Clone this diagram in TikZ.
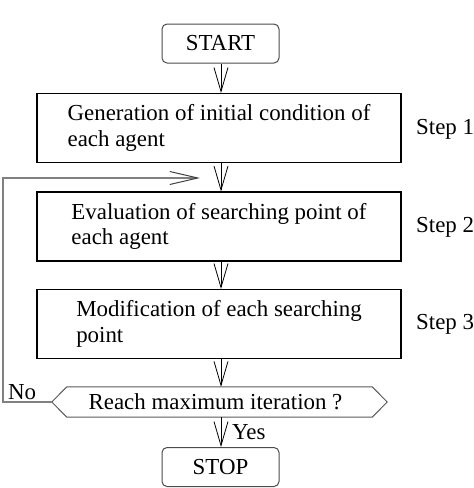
\documentclass[tikz,border=0pt]{standalone}
\usepackage{fontspec}
\setmainfont{Liberation Serif}
\usetikzlibrary{arrows.meta}
\begin{document}
\begin{tikzpicture}[x=1pt,y=1pt,
  font=\fontsize{22.9}{25.5}\selectfont,
  box/.style={draw, line width=1.1pt, minimum width=364pt, minimum height=69pt, align=left, inner sep=0pt},
  term/.style={draw=black!70, line width=1pt, rounded corners=5pt, minimum width=117pt, minimum height=39pt, inner sep=0pt},
  decnode/.style={minimum width=335pt, minimum height=30pt, inner sep=0pt},
  decline/.style={draw=black!65, line width=1pt},
  arr/.style={line width=0.8pt, -{Straight Barb[length=24pt,width=14pt,line width=0.8pt]}},
  fbline/.style={draw=black!50, line width=1.5pt, -{Straight Barb[length=28pt,width=13pt,line width=1pt,color=black!75]}},
  lbl/.style={anchor=west, inner sep=0pt}]
\useasboundingbox (0,0) rectangle (474,-488);
\coordinate (ax) at (221,0);
\node[term] (start) at (220.5,-43.5) {START};
\node[box] (b1) at (219,-128) {Generation of initial condition of\\each agent};
\node[box] (b2) at (219,-226.5) {Evaluation of searching point of\\each agent};
\node[box] (b3) at (219,-324) {Modification of each searching\\point};
\node[decnode] (dec) at (219.5,-402) {Reach maximum iteration ?\hspace*{8pt}};
\draw[decline] ([xshift=15pt]dec.north west) -- ([xshift=-15pt]dec.north east) -- (dec.east)
  -- ([xshift=-15pt]dec.south east) -- ([xshift=15pt]dec.south west) -- (dec.west) -- cycle;
\node[term] (stop) at (220.5,-467) {STOP};
\node[lbl] (s1) at (416,-129) {Step 1};
\node[lbl] (s2) at (416,-227) {Step 2};
\node[lbl] (s3) at (416,-324) {Step 3};
\node[lbl] (no) at (8,-392) {No};
\node[lbl] (yes) at (232,-432) {Yes};
\draw[arr] (ax |- start.south) -- (ax |- b1.north);
\draw[arr] (ax |- b1.south) -- (ax |- b2.north);
\draw[arr] (ax |- b2.south) -- (ax |- b3.north);
\draw[arr] (ax |- b3.south) -- (ax |- dec.north);
\draw[arr] (ax |- dec.south) -- (ax |- stop.north);
\coordinate (fb) at (200,-178);
\draw[fbline] (dec.west) -- ++(-49,0) |- (fb);
\end{tikzpicture}
\end{document}
